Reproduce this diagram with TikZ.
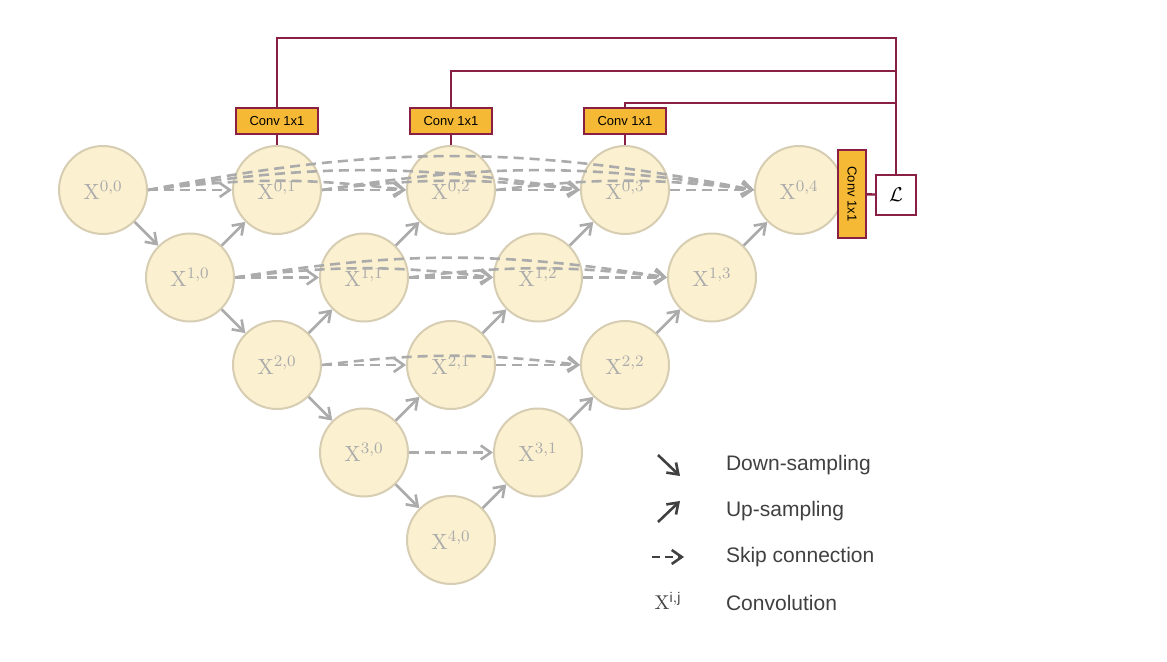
\documentclass[tikz,border=0pt]{standalone}
\usepackage{fontspec}
\setmainfont{Liberation Sans}
\newfontfamily\serifx{Latin Modern Roman}
\usepackage{amssymb}
\usetikzlibrary{arrows.meta, positioning}

\definecolor{cellfill}{HTML}{FBF0D0}
\definecolor{celldraw}{HTML}{D6CDB2}
\definecolor{arrowgray}{HTML}{ABABAB}
\definecolor{convfill}{HTML}{F6B935}
\definecolor{maroon}{HTML}{8A1F45}

\begin{document}
\begin{tikzpicture}[
            x = 0.5pt, y = -0.5pt, % pixel grid of the reference
            > = {Straight Barb[length=5pt, width=7pt]}, % arrow head style
            cell/.style = {circle, draw = celldraw, fill = cellfill, line width = 1pt,
                           minimum size = 44pt, inner sep = 0pt, text = arrowgray,
                           font = \serifx\fontsize{11}{11}\selectfont},
            conv/.style = {draw = maroon, fill = convfill, line width = 1pt,
                           font = \fontsize{6.5}{7}\selectfont, inner sep = 0pt,
                           minimum width = 41pt, minimum height = 13pt},
            sample/.style = {->, draw = arrowgray, line width = 1.3pt},
            skip/.style = {->, draw = arrowgray, line width = 1.3pt, dash pattern = on 5pt off 3pt},
            wire/.style = {draw = maroon, line width = 1.2pt}
        ]
        \useasboundingbox (0,0) rectangle (1167,662);

        % nodes X^{i,j}
        \foreach \i/\jmax in {0/4, 1/3, 2/2, 3/1, 4/0} {
            \foreach \j in {0,...,\jmax} {
                \node[cell] (x\i\j) at ({103+87*(\i+2*\j)}, {190+87.5*\i})
                    {X$^{\i,\j}$};
            }
        }

        % down-sampling
        \foreach \i [evaluate = \i as \n using int(\i+1)] in {0,...,3}
            \draw[sample] (x\i0) -- (x\n0);

        % up-sampling
        \foreach \i/\j in {1/0, 1/1, 1/2, 1/3, 2/0, 2/1, 2/2, 3/0, 3/1, 4/0} {
            \pgfmathtruncatemacro{\a}{\i-1}
            \pgfmathtruncatemacro{\b}{\j+1}
            \draw[sample] (x\i\j) -- (x\a\b);
        }

        % skip connections
        \foreach \i/\j in {0/1, 0/2, 0/3, 0/4, 1/1, 1/2, 1/3, 2/1, 2/2, 3/1} {
            \pgfmathtruncatemacro{\k}{\j-1}
            \draw[skip] (x\i\k) -- (x\i\j);
        }
        \foreach \i/\k/\j in {0/0/2, 0/0/3, 0/0/4, 0/1/3, 0/1/4, 0/2/4,
                              1/0/2, 1/0/3, 1/1/3, 2/0/2} {
            \pgfmathtruncatemacro{\bend}{3+2*(\j-\k)}
            \draw[skip] (x\i\k.east) to[bend left=\bend] (x\i\j.west);
        }

        % deep supervision
        \node[conv] (c1) [above=5pt of x01] {Conv 1x1};
        \node[conv] (c2) [above=5pt of x02] {Conv 1x1};
        \node[conv] (c3) [above=5pt of x03] {Conv 1x1};
        \node[conv, rotate=-90, minimum width = 44pt, minimum height = 14pt] (c4) at (852,194) {Conv 1x1};
        \node[draw = maroon, fill = white, line width = 1pt, minimum size = 20pt,
              inner sep = 0pt] (loss) at (896,195) {$\mathcal{L}$};

        \draw[wire] (x01) -- (c1);
        \draw[wire] (x02) -- (c2);
        \draw[wire] (x03) -- (c3);
        \draw[wire] (c4) -- (loss);
        \draw[wire] (c1.north) |- (896,38) -- (loss.north);
        \draw[wire] (c2.north) |- (896,71);
        \draw[wire] (c3.north) |- (896,103);

        % legend
        \node[anchor = west, font = \fontsize{10.5}{12}\selectfont, text = black!75] (ld) at (719,465) {Down-sampling};
        \node[anchor = west, font = \fontsize{10.5}{12}\selectfont, text = black!75] (lu) at (719,511) {Up-sampling};
        \node[anchor = west, font = \fontsize{10.5}{12}\selectfont, text = black!75] (ls) at (719,557) {Skip connection};
        \node[anchor = west, font = \fontsize{10.5}{12}\selectfont, text = black!75] (lc) at (719,603) {Convolution};
        \coordinate (da) at (658,455); \coordinate (db) at (680,476);
        \coordinate (ua) at (658,522); \coordinate (ub) at (680,501);
        \coordinate (sa) at (652,557); \coordinate (sb) at (684,557);
        \draw[->, line width = 1.3pt, black!75] (da) -- (db);
        \draw[->, line width = 1.3pt, black!75] (ua) -- (ub);
        \draw[->, line width = 1.3pt, black!75, dash pattern = on 4pt off 2.5pt] (sa) -- (sb);
        \node[font = \serifx\fontsize{10}{10}\selectfont, text = black!75] (lx) at (668,601) {X$^{\mathrm{i,j}}$};
\end{tikzpicture}
\end{document}
